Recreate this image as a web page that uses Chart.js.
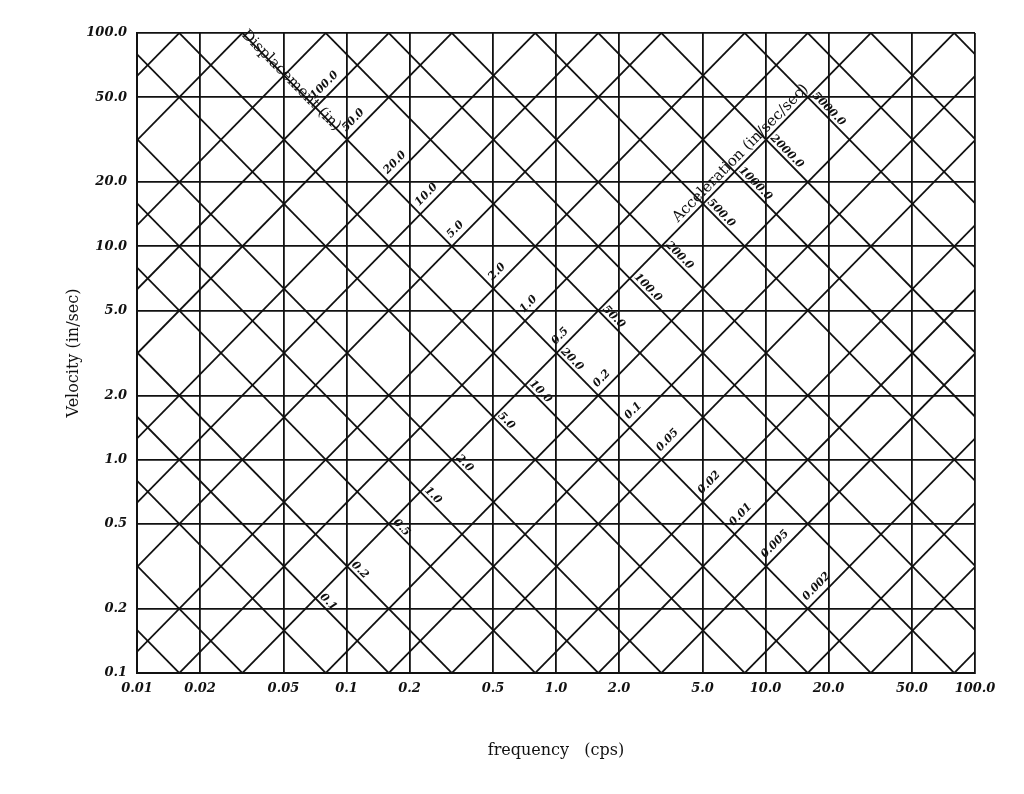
<!DOCTYPE html>
<html><head><meta charset="utf-8">
<script src="https://cdn.jsdelivr.net/npm/chart.js@4/dist/chart.umd.min.js"></script>
<style>body{margin:0;background:#fff}#wrap{width:1024px;height:794px}</style>
</head><body><div id="wrap"><canvas id="canva"></canvas></div>
<script>
const freqTicks = [0.01, 0.02, 0.05, 0.1, 0.2, 0.5, 1, 2, 5, 10, 20, 50, 100];
const freqLabels = ["0.01", "0.02", "0.05", "0.1", "0.2", "0.5", "1.0", "2.0", "5.0", "10.0", "20.0", "50.0", "100.0"];
const velTicks = [0.1, 0.2, 0.5, 1, 2, 5, 10, 20, 50, 100];
const velLabels = ["0.1", "0.2", "0.5", "1.0", "2.0", "5.0", "10.0", "20.0", "50.0", "100.0"];
// diagonal lines (1-2-5 series)
const dispLines = [0.0001, 0.0002, 0.0005, 0.001, 0.002, 0.005, 0.01, 0.02, 0.05, 0.1, 0.2, 0.5, 1, 2, 5, 10, 20, 50, 100, 200, 500, 1000, 2000];
const accLines = [0.005, 0.01, 0.02, 0.05, 0.1, 0.2, 0.5, 1, 2, 5, 10, 20, 50, 100, 200, 500, 1000, 2000, 5000, 10000, 20000, 50000];
// labelled values
const dispLabels = ["100.0", "50.0", "20.0", "10.0", "5.0", "2.0", "1.0", "0.5", "0.2", "0.1", "0.05", "0.02", "0.01", "0.005", "0.002"];
const accLabels = ["0.1", "0.2", "0.5", "1.0", "2.0", "5.0", "10.0", "20.0", "50.0", "100.0", "200.0", "500.0", "1000.0", "2000.0", "5000.0"];
const dispLabelAcc = 20;   // displacement labels sit on this acceleration line
const accLabelDisp = 0.5;  // acceleration labels sit on this displacement line

const TWO_PI = 2 * Math.PI;
const line = (pts) => ({ data: pts, showLine: true, pointRadius: 0, borderColor: "#111", borderWidth: 1.8, clip: 0 });
const datasets = [
  ...dispLines.map(d => line([{ x: 0.001, y: TWO_PI * 0.001 * d }, { x: 1000, y: TWO_PI * 1000 * d }])),
  ...accLines.map(a => line([{ x: 0.001, y: a / (TWO_PI * 0.001) }, { x: 1000, y: a / (TWO_PI * 1000) }])),
];

const labelFont = "italic bold 11px 'DejaVu Serif'";
const diagLabels = {
  id: "diagLabels",
  afterDatasetsDraw(chart) {
    const { ctx, scales: { x, y } } = chart;
    const px = (f, v) => [x.getPixelForValue(f), y.getPixelForValue(v)];
    const text = (s, f, v, ang, font, dx, dy) => {
      const [X, Y] = px(f, v);
      ctx.save();
      ctx.translate(X + dx, Y + dy);
      ctx.rotate(ang);
      ctx.font = font;
      ctx.fillStyle = "#111";
      ctx.textAlign = "left";
      ctx.textBaseline = "bottom";
      ctx.fillText(s, 2, -1);
      ctx.restore();
    };
    const [x0, y0] = px(1, 1), [x1, y1] = px(10, 10), [x2, y2] = px(10, 0.1);
    const up = Math.atan2(y1 - y0, x1 - x0);
    const down = Math.atan2(y2 - y0, x2 - x0);
    dispLabels.forEach(s => {
      const d = parseFloat(s);
      text(s, Math.sqrt(dispLabelAcc / d) / TWO_PI, Math.sqrt(dispLabelAcc * d), up, labelFont, 0, -4);
    });
    accLabels.forEach(s => {
      const a = parseFloat(s);
      text(s, Math.sqrt(a / accLabelDisp) / TWO_PI, Math.sqrt(a * accLabelDisp), down, labelFont, 0, 0);
    });
    const titleFont = "15px 'DejaVu Serif'";
    text("Displacement (in)", dispLabelAcc / (TWO_PI * 100), 100, down, titleFont, -6, 4);
    const f0 = 3.9;
    text("Acceleration (in/sec/sec)", f0, TWO_PI * f0 * accLabelDisp, up, titleFont, 0, 0);
  }
};

const tickFont = { family: "'DejaVu Serif'", size: 13, style: "italic", weight: "bold" };
new Chart(document.getElementById("canva"), {
  type: "scatter",
  data: { datasets },
  options: {
    responsive: true,
    maintainAspectRatio: false,
    animation: false,
    layout: { padding: { top: 33, right: 49, left: 60, bottom: 30 } },
    plugins: { legend: { display: false }, tooltip: { enabled: false } },
    scales: {
      x: {
        type: "logarithmic", min: 0.01, max: 100,
        afterBuildTicks: (s) => { s.ticks = freqTicks.map(v => ({ value: v })); },
        afterFit: (s) => { s.height = 91; },
        ticks: { color: "#111", font: tickFont, autoSkip: false, maxRotation: 0, padding: 8,
          callback: (v) => freqLabels[freqTicks.indexOf(v)] },
        grid: { color: "#111", lineWidth: 1.8, drawTicks: false },
        border: { color: "#111", width: 2 },
        title: { display: true, text: "frequency   (cps)", color: "#111", font: { family: "'DejaVu Serif'", size: 16 }, padding: { top: 20 } },
      },
      y: {
        type: "logarithmic", min: 0.1, max: 100,
        afterBuildTicks: (s) => { s.ticks = velTicks.map(v => ({ value: v })); },
        afterFit: (s) => { s.width = 77; },
        ticks: { color: "#111", font: tickFont, autoSkip: false, padding: 10,
          callback: (v) => velLabels[velTicks.indexOf(v)] },
        grid: { color: "#111", lineWidth: 1.8, drawTicks: false },
        border: { color: "#111", width: 2 },
        title: { display: true, text: "Velocity (in/sec)", color: "#111", font: { family: "'DejaVu Serif'", size: 16 }, padding: { bottom: 4 } },
      },
    },
  },
  plugins: [diagLabels],
});
</script></body></html>
